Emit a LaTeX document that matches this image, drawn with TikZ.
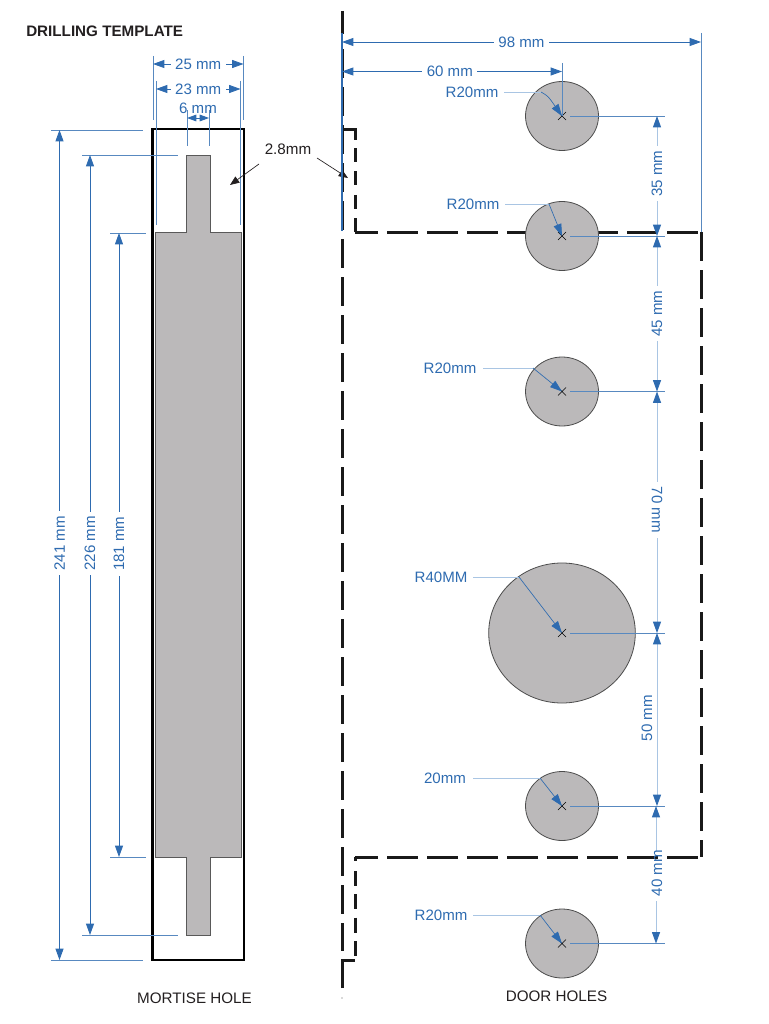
\documentclass[tikz,border=0pt]{standalone}
\usepackage{fontspec}
\setmainfont{Liberation Sans}
\usetikzlibrary{arrows.meta}
\definecolor{dimblue}{HTML}{2E6BB0}
\definecolor{leadblue}{HTML}{A9C5E3}
\definecolor{holegray}{HTML}{BBB9BA}
\definecolor{inkdark}{HTML}{231F20}
\tikzset{
    dimline/.style={draw=dimblue, line width=0.65pt, {Triangle[length=8.5pt,width=6pt]}-{Triangle[length=8.5pt,width=6pt]}},
    softdim/.style={draw=leadblue, line width=0.65pt, {Triangle[length=8.5pt,width=6pt,color=dimblue]}-{Triangle[length=8.5pt,width=6pt,color=dimblue]}},
    extline/.style={draw=dimblue!80, line width=0.6pt},
    leadline/.style={draw=leadblue, line width=0.7pt},
    pointer/.style={draw=dimblue, line width=0.5pt, -{Triangle[length=9pt,width=6pt]}},
    dimtext/.style={text=dimblue, font=\fontsize{11.3}{13}\selectfont, inner sep=1.5pt},
    gaptext/.style={dimtext, fill=white, inner xsep=3.5pt},
    blacktext/.style={text=inkdark, font=\fontsize{11.4}{13}\selectfont, inner sep=0pt},
    doorline/.style={draw=black!90, line width=2.25pt},
    slotfill/.style={fill=holegray, draw=black!65, line width=0.6pt},
    holefill/.style={fill=holegray, draw=black!70, line width=0.6pt},
    notearrow/.style={draw=inkdark, line width=0.5pt, -{Triangle[length=7pt,width=5.5pt]}}
}
\begin{document}
\begin{tikzpicture}[x=0.75pt, y=-0.75pt]
    \useasboundingbox (0, 0) rectangle (768, 1024);

    \node [blacktext, font=\fontsize{11.4}{13}\selectfont\bfseries, anchor=west] (title) at (26, 31) {DRILLING TEMPLATE};
    \node [blacktext] (mortiselabel) at (194.5, 998) {MORTISE HOLE};
    \node [blacktext] (doorlabel) at (556.5, 996) {DOOR HOLES};

    % mortise plate
    \draw [slotfill] (186, 155) -- (210, 155) -- (210, 232) -- (241, 232) -- (241, 857) -- (210, 857) -- (210, 935) -- (186, 935) -- (186, 857) -- (155, 857) -- (155, 232) -- (186, 232) -- cycle;
    \draw [draw=black, line width=1.9pt] (152.5, 129) rectangle (244, 960);

    % widths
    \draw [extline] (153, 56) -- (153, 120);
    \draw [extline] (243.5, 56) -- (243.5, 120);
    \draw [extline] (156, 81) -- (156, 225);
    \draw [extline] (240.5, 81) -- (240.5, 225);
    \draw [extline] (187, 110) -- (187, 146);
    \draw [extline] (209, 110) -- (209, 146);
    \draw [dimline] (153, 64) -- (243.5, 64) node [gaptext, midway] (width25) {25 mm};
    \draw [dimline] (156, 89) -- (240.5, 89) node [gaptext, midway] (width23) {23 mm};
    \draw [draw=dimblue, line width=0.65pt, {Triangle[length=7pt,width=5pt]}-{Triangle[length=7pt,width=5pt]}] (187, 118) -- (209, 118);
    \node [dimtext] (width6) at (198, 108) {6 mm};

    % heights
    \draw [extline] (51, 130) -- (143, 130);
    \draw [extline] (51, 960.5) -- (143, 960.5);
    \draw [extline] (82, 155) -- (178, 155);
    \draw [extline] (82, 935) -- (178, 935);
    \draw [extline] (110, 233) -- (146, 233);
    \draw [extline] (110, 857) -- (146, 857);
    \draw [dimline] (59.5, 130) -- (59.5, 960) node [gaptext, rotate=90, pos=0.498] (height241) {241 mm};
    \draw [dimline] (90, 155) -- (90, 935) node [gaptext, rotate=90, pos=0.498] (height226) {226 mm};
    \draw [dimline] (119, 233) -- (119, 857) node [gaptext, rotate=90, pos=0.498] (height181) {181 mm};

    % note
    \node [blacktext] (note) at (288, 149) {2.8mm};
    \coordinate (noteleft) at (230, 185);
    \coordinate (noteright) at (348, 178);
    \draw [notearrow] (259, 164) -- (noteleft);
    \draw [notearrow] (317, 158) -- (noteright);

    % door outline
    \draw [doorline] (342, 11) -- (342, 34);
    \draw [doorline, dash pattern=on 21.4pt off 7.1pt] (342, 49) -- (342, 951);
    \draw [doorline] (342, 988) -- (342, 960) -- (355, 960);
    \draw [doorline] (342, 129) -- (355, 129) -- (355, 140);
    \draw [doorline, dash pattern=on 10.5pt off 7.1pt] (355, 148) -- (355, 212);
    \draw [doorline] (355, 218) -- (355, 232);
    \draw [doorline, dash pattern=on 23.25pt off 6.75pt, dash phase=6pt] (355, 232) -- (701, 232);
    \draw [doorline, dash pattern=on 21.4pt off 7.1pt] (701, 232) -- (701, 857);
    \draw [doorline, dash pattern=on 23.25pt off 6.75pt, dash phase=6pt] (355, 857) -- (701, 857);
    \draw [doorline] (355, 857) -- (355, 861);
    \draw [doorline, dash pattern=on 11.25pt off 6.25pt] (355, 871) -- (355, 956);
    \draw [draw=black!15, line width=2pt] (342, 997) -- (342, 998.5);
    \draw [dimblue, line width=0.8pt] (342, 33) -- (342, 231);

    % holes
    \foreach \holename/\cy in {a/116, b/236, c/391.5, e/806, f/943.5} {
        \draw [holefill] (562, \cy) ellipse [x radius=36.5, y radius=34.5];
        \coordinate (hole\holename) at (562, \cy);
    }
    \draw [holefill] (562, 633) ellipse [x radius=73.3, y radius=70];
    \coordinate (holed) at (562, 633);
    \foreach \holename in {a, b, c, d, e, f} {
        \draw [draw=black, line width=0.5pt] (hole\holename) ++(-4, -4) -- ++(8, 8) ++(-8, 0) -- ++(8, -8);
        \draw [extline] (hole\holename) ++(8, 0) -- ++(95, 0);
    }

    % leaders
    \node [dimtext] (rada) at (472, 92) {R20mm};
    \draw [leadline] (504, 92) -- (541, 92);
    \draw [pointer] (541, 92) .. controls (548, 96) .. (holea);
    \node [dimtext] (radb) at (473, 204) {R20mm};
    \draw [leadline] (505, 204) -- (549, 204);
    \draw [pointer] (549, 204) -- (holeb);
    \node [dimtext] (radc) at (450, 368) {R20mm};
    \draw [leadline] (483, 368) -- (533, 368);
    \draw [pointer] (533, 368) -- (holec);
    \node [dimtext] (radd) at (441, 577) {R40MM};
    \draw [leadline] (473, 577) -- (519, 577);
    \draw [pointer] (519, 577) -- (holed);
    \node [dimtext] (rade) at (445, 778) {20mm};
    \draw [leadline] (473, 778) -- (540, 778);
    \draw [pointer] (540, 778) -- (holee);
    \node [dimtext] (radf) at (441, 915) {R20mm};
    \draw [leadline] (473, 915) -- (540, 915);
    \draw [pointer] (540, 915) -- (holef);

    % door widths
    \draw [extline] (701, 33) -- (701, 232);
    \draw [extline] (562, 63) -- (562, 116);
    \draw [dimline] (342, 42) -- (701, 42) node [gaptext, pos=0.5] (width98) {98 mm};
    \draw [dimline] (342, 71.5) -- (562, 71.5) node [gaptext, pos=0.49] (width60) {60 mm};

    % door heights
    \draw [softdim] (657, 116) -- (657, 236) node [gaptext, rotate=90, pos=0.48] (gap35) {35 mm};
    \draw [softdim] (657, 236) -- (657, 391.5) node [gaptext, rotate=90, pos=0.5] (gap45) {45 mm};
    \draw [softdim] (657, 391.5) -- (657, 633) node [gaptext, rotate=-90, pos=0.49] (gap70) {70 mm};
    \draw [softdim] (657, 633) -- (657, 806);
    \node [dimtext, rotate=90] (gap50) at (647, 718) {50 mm};
    \draw [draw=leadblue, line width=0.65pt, {Triangle[length=8.5pt,width=6pt,color=dimblue]}-] (656, 806) -- (656, 851);
    \draw [draw=leadblue, line width=0.65pt, -{Triangle[length=8.5pt,width=6pt,color=dimblue]}] (656, 901) -- (656, 943.5);
    \node [dimtext, rotate=90] (gap40) at (657, 873) {40 mm};
\end{tikzpicture}
\end{document}
